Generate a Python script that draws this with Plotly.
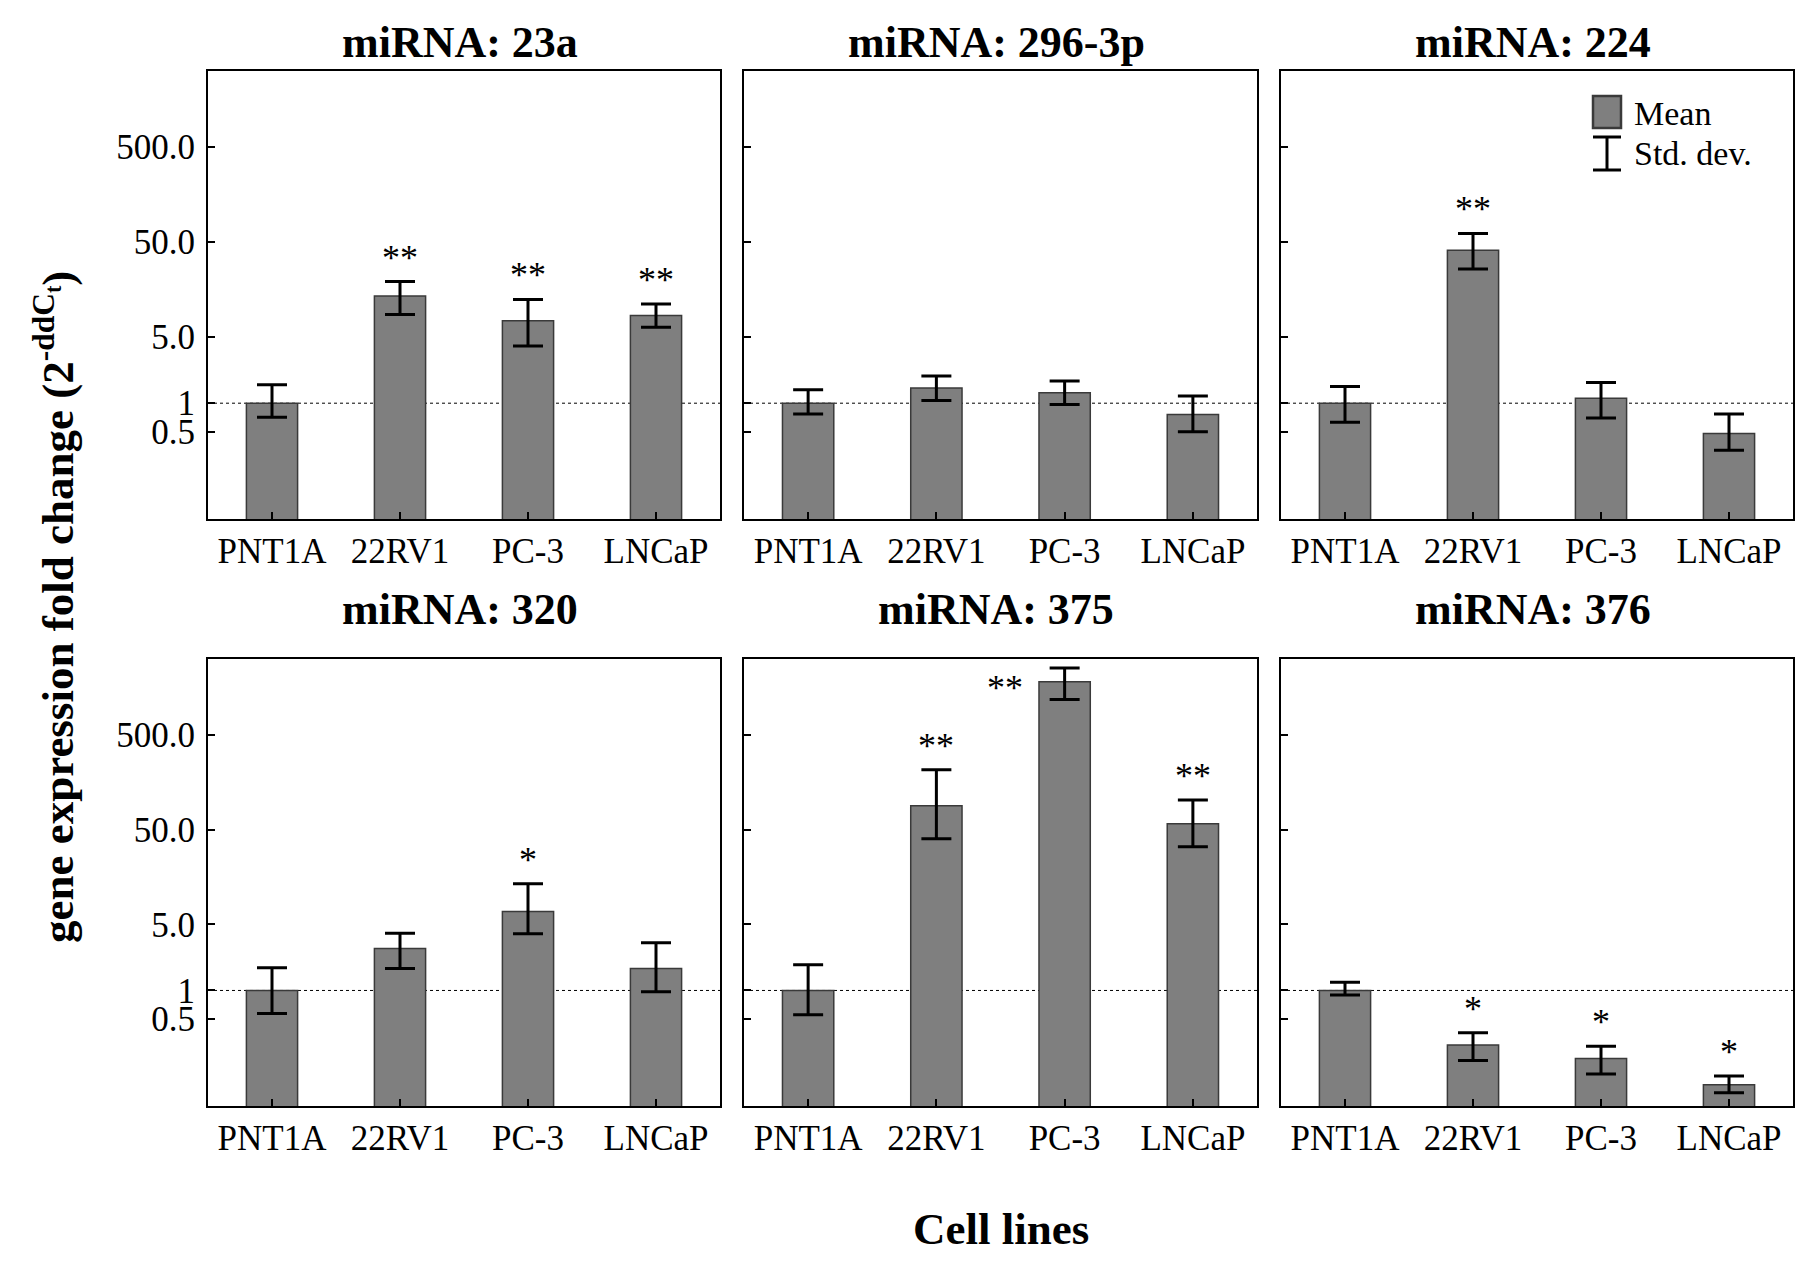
import numpy as np
import plotly.graph_objects as go
from plotly.subplots import make_subplots

# ---- data (fold change, 2^-ddCt) ----
cells = ["PNT1A", "22RV1", "PC-3", "LNCaP"]

mean_23a = [1.0, 13.5, 7.4, 8.4]
hi_23a = [1.56, 19.1, 12.4, 11.1]
lo_23a = [0.71, 8.6, 4.0, 6.3]
sig_23a = ["", "**", "**", "**"]

mean_296 = [1.0, 1.45, 1.29, 0.76]
hi_296 = [1.39, 1.93, 1.71, 1.19]
lo_296 = [0.77, 1.07, 0.97, 0.50]
sig_296 = ["", "", "", ""]

mean_224 = [1.0, 41.0, 1.13, 0.48]
hi_224 = [1.50, 61.5, 1.65, 0.77]
lo_224 = [0.63, 25.9, 0.70, 0.32]
sig_224 = ["", "**", "", ""]

mean_320 = [1.0, 2.78, 6.8, 1.71]
hi_320 = [1.74, 4.03, 13.4, 3.19]
lo_320 = [0.57, 1.71, 3.96, 0.97]
sig_320 = ["", "", "*", ""]

mean_375 = [1.0, 89.4, 1817.0, 57.5]
hi_375 = [1.87, 214.0, 2547.0, 102.6]
lo_375 = [0.555, 40.0, 1178.0, 33.0]
sig_375 = ["", "**", "**", "**"]

mean_376 = [1.0, 0.266, 0.191, 0.101]
hi_376 = [1.22, 0.357, 0.257, 0.125]
lo_376 = [0.894, 0.182, 0.131, 0.083]
sig_376 = ["", "*", "*", "*"]

ytick_vals = [0.5, 1, 5, 50, 500]
ytick_text = ["0.5", "1", "5.0", "50.0", "500.0"]

panels = [
    ("miRNA: 23a", mean_23a, hi_23a, lo_23a, sig_23a),
    ("miRNA: 296-3p", mean_296, hi_296, lo_296, sig_296),
    ("miRNA: 224", mean_224, hi_224, lo_224, sig_224),
    ("miRNA: 320", mean_320, hi_320, lo_320, sig_320),
    ("miRNA: 375", mean_375, hi_375, lo_375, sig_375),
    ("miRNA: 376", mean_376, hi_376, lo_376, sig_376),
]

W, H = 1819, 1269
OFF = 8  # page body margin
FONT = "Liberation Serif"
Y_RANGE = [-1.22, 3.5]


def px_x(v):
    return (v - OFF) / W


def px_y(v):
    return 1 - (v - OFF) / H


# panel boxes in page pixels
col_px = [(208, 720), (744, 1257), (1281, 1793)]
row_px = [(71, 519), (659, 1106)]
title_px = [42, 609]

fig = make_subplots(rows=2, cols=3)

annotations = []
shapes = []
for i, (title, mean, hi, lo, sig) in enumerate(panels):
    r, c = divmod(i, 3)
    n = i + 1
    xa = "x" if n == 1 else f"x{n}"
    ya = "y" if n == 1 else f"y{n}"
    err_up = [h - m for h, m in zip(hi, mean)]
    err_dn = [m - l for m, l in zip(mean, lo)]
    fig.add_trace(go.Bar(
        x=cells, y=mean,
        marker=dict(color="#7f7f7f", line=dict(color="#3a3a3a", width=1.5)),
        error_y=dict(type="data", symmetric=False, array=err_up, arrayminus=err_dn,
                     color="black", thickness=3, width=15),
        showlegend=False,
    ), row=r + 1, col=c + 1)

    x0, x1 = col_px[c]
    y0, y1 = row_px[r]
    fig.update_xaxes(domain=[px_x(x0), px_x(x1)], row=r + 1, col=c + 1)
    fig.update_yaxes(domain=[px_y(y1), px_y(y0)], row=r + 1, col=c + 1)

    # reference line at fold change 1
    shapes.append(dict(type="line", xref=f"{xa} domain", yref=ya, x0=0, x1=1, y0=1, y1=1,
                       line=dict(color="black", width=1, dash="dot"), layer="below"))

    annotations.append(dict(text=f"<b>{title}</b>", xref="paper", yref="paper",
                            x=px_x((x0 + x1) / 2 - 4), y=px_y(title_px[r]), showarrow=False,
                            font=dict(family=FONT, size=44, color="black"),
                            xanchor="center", yanchor="middle"))

    for k, s in enumerate(sig):
        if not s:
            continue
        top = np.log10(hi[k])
        if top + 0.3 > Y_RANGE[1]:
            # no room above: put the mark to the left of the bar
            annotations.append(dict(text=s, xref=xa, yref=ya, x=cells[k], y=np.log10(mean[k]),
                                    xshift=-60, yshift=-6, showarrow=False,
                                    font=dict(family=FONT, size=36, color="black"),
                                    xanchor="center", yanchor="middle"))
        else:
            annotations.append(dict(text=s, xref=xa, yref=ya, x=cells[k], y=top,
                                    yshift=2, showarrow=False,
                                    font=dict(family=FONT, size=36, color="black"),
                                    xanchor="center", yanchor="bottom"))

axis_common = dict(showline=True, linecolor="black", linewidth=2, mirror=True,
                   ticks="inside", ticklen=7, tickwidth=1.5, tickcolor="black",
                   showgrid=False, zeroline=False,
                   tickfont=dict(family=FONT, size=35, color="black"))
fig.update_xaxes(**axis_common, ticklabelstandoff=0)
fig.update_yaxes(**axis_common, type="log", range=Y_RANGE,
                 tickvals=ytick_vals, ticktext=ytick_text, ticklabelstandoff=4)
fig.update_yaxes(showticklabels=False, col=2)
fig.update_yaxes(showticklabels=False, col=3)

# legend drawn inside the miRNA 224 panel
shapes.append(dict(type="rect", xref="paper", yref="paper",
                   x0=px_x(1593), x1=px_x(1621), y0=px_y(128), y1=px_y(96),
                   fillcolor="#7f7f7f", line=dict(color="#3a3a3a", width=2.5)))
shapes.append(dict(type="line", xref="paper", yref="paper",
                   x0=px_x(1607), x1=px_x(1607), y0=px_y(170), y1=px_y(137),
                   line=dict(color="black", width=3)))
for yy in (137, 170):
    shapes.append(dict(type="line", xref="paper", yref="paper",
                       x0=px_x(1593), x1=px_x(1621), y0=px_y(yy), y1=px_y(yy),
                       line=dict(color="black", width=3)))
for txt, yy in (("Mean", 113), ("Std. dev.", 154)):
    annotations.append(dict(text=txt, xref="paper", yref="paper", x=px_x(1632), y=px_y(yy),
                            showarrow=False, xanchor="left", yanchor="middle",
                            font=dict(family=FONT, size=34, color="black")))

# axis titles
annotations.append(dict(text="<b>gene expression fold change (2<sup>-ddC<sub>t</sub></sup>)</b>",
                        xref="paper", yref="paper", x=px_x(54), y=px_y(607), textangle=-90,
                        showarrow=False, xanchor="center", yanchor="middle",
                        font=dict(family=FONT, size=45, color="black")))
annotations.append(dict(text="<b>Cell lines</b>", xref="paper", yref="paper",
                        x=px_x(1001), y=px_y(1229), showarrow=False,
                        xanchor="center", yanchor="middle",
                        font=dict(family=FONT, size=45, color="black")))

fig.update_layout(
    width=W, height=H,
    margin=dict(l=0, r=0, t=0, b=0),
    paper_bgcolor="white", plot_bgcolor="white",
    bargap=0.6,
    annotations=annotations, shapes=shapes,
    showlegend=False,
)

fig.write_html("out.html")
